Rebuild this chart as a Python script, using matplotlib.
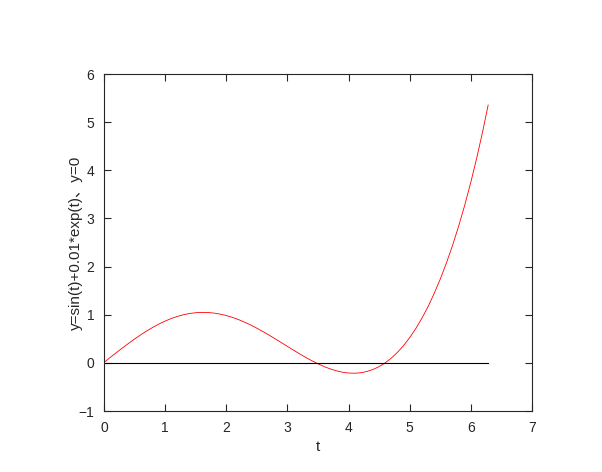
import matplotlib.pyplot as plt

plt.rcParams['font.family'] = ['Liberation Sans', 'Noto Sans CJK SC', 'DejaVu Sans']

# values
t = [0.0, 0.1, 0.2, 0.3, 0.4, 0.5, 0.6, 0.7, 0.8, 0.9, 1.0, 1.1, 1.2, 1.3, 1.4,
     1.5, 1.6, 1.7, 1.8, 1.9, 2.0, 2.1, 2.2, 2.3, 2.4, 2.5, 2.6, 2.7, 2.8, 2.9,
     3.0, 3.1, 3.2, 3.3, 3.4, 3.5, 3.6, 3.7, 3.8, 3.9, 4.0, 4.1, 4.2, 4.3, 4.4,
     4.5, 4.6, 4.7, 4.8, 4.9, 5.0, 5.1, 5.2, 5.3, 5.4, 5.5, 5.6, 5.7, 5.8, 5.9,
     6.0, 6.1, 6.2, 6.283]
y = [0.010, 0.111, 0.211, 0.309, 0.404, 0.496, 0.583, 0.664, 0.740, 0.808,
     0.869, 0.921, 0.965, 1.000, 1.026, 1.042, 1.049, 1.046, 1.034, 1.013,
     0.983, 0.945, 0.899, 0.845, 0.786, 0.720, 0.650, 0.576, 0.499, 0.421,
     0.342, 0.264, 0.187, 0.113, 0.044, -0.020, -0.077, -0.125, -0.165, -0.194,
     -0.211, -0.215, -0.205, -0.179, -0.137, -0.077, 0.001, 0.100, 0.219, 0.360,
     0.525, 0.714, 0.929, 1.168, 1.441, 1.741, 2.073, 2.438, 2.838, 3.276,
     3.755, 4.276, 4.844, 5.356]
zero_t = [0.0, 6.283]
zero_y = [0.0, 0.0]

fig = plt.figure(figsize=(6.02, 4.72), dpi=100)
ax = fig.add_axes([0.1728, 0.1292, 0.7109, 0.714])

ax.plot(t, y, color='red', linewidth=0.6)
ax.plot(zero_t, zero_y, color='black', linewidth=0.8)

ax.set_xlim(0, 7)
ax.set_ylim(-1, 6)
ax.set_xticks(range(0, 8))
ax.set_yticks(range(-1, 7))

dark = '#262626'
for s in ax.spines.values():
    s.set_color(dark)
    s.set_linewidth(0.8)
ax.tick_params(direction='in', top=True, right=True, length=5, width=0.8,
               labelsize=10, colors=dark, pad=7)

ax.set_xlabel('t', fontsize=11, color=dark)
ax.set_ylabel('y=sin(t)+0.01*exp(t)、y=0', fontsize=11, color=dark, labelpad=-3)

fig.savefig('out.png', dpi=100)
